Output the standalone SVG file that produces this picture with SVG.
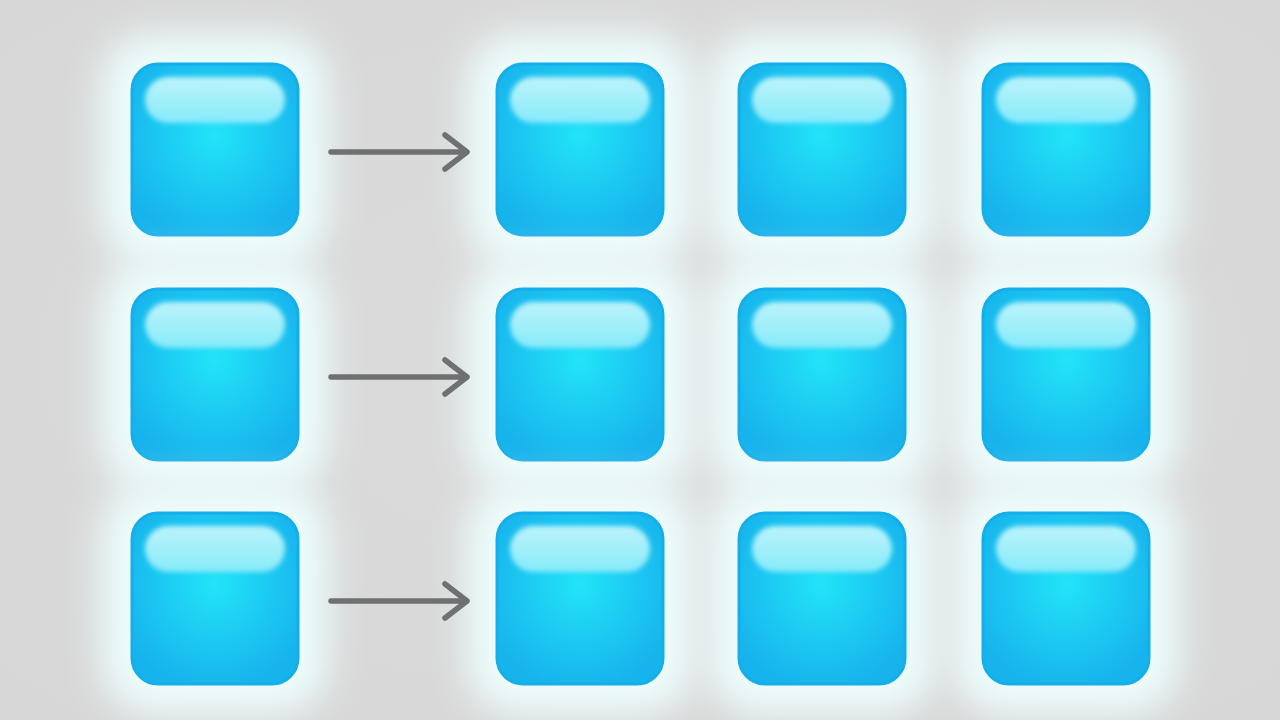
<svg xmlns="http://www.w3.org/2000/svg" width="1280" height="720" viewBox="0 0 1280 720">
<defs>
<style>
.glow{fill:#eefdfd;filter:url(#blur)}
.box{fill:url(#bodyGrad);stroke:#16aee9;stroke-width:3}
.shine{fill:url(#shineGrad);filter:url(#soft)}
.conn{stroke:#6e7071;stroke-width:5.5;fill:none;stroke-linecap:round;stroke-linejoin:round}
</style>
<radialGradient id="bg" cx="0.5" cy="0.5" r="0.75">
<stop offset="0" stop-color="#dbdbdb"/>
<stop offset="1" stop-color="#d7d7d7"/>
</radialGradient>
<radialGradient id="bodyGrad" cx="0.5" cy="0.42" r="0.62">
<stop offset="0" stop-color="#22e4f8"/>
<stop offset="0.55" stop-color="#1cc8f2"/>
<stop offset="1" stop-color="#17b3ec"/>
</radialGradient>
<linearGradient id="shineGrad" x1="0" y1="0" x2="0" y2="1">
<stop offset="0" stop-color="#bdf4fb"/>
<stop offset="1" stop-color="#86eaf9"/>
</linearGradient>
<filter id="blur" x="-50%" y="-50%" width="200%" height="200%"><feGaussianBlur stdDeviation="18"/></filter>
<filter id="soft" x="-20%" y="-20%" width="140%" height="140%"><feGaussianBlur stdDeviation="2.5"/></filter>
<g id="cell">
<rect class="glow" x="-30" y="-30" width="226" height="231" rx="50"/>
<rect class="box" x="0" y="0" width="166" height="171" rx="26"/>
<rect class="shine" x="13" y="13" width="140" height="46" rx="23"/>
</g>
</defs>
<rect width="1280" height="720" fill="url(#bg)"/>
<g id="node-r1c1"><use href="#cell" x="132" y="64"/></g>
<g id="node-r1c2"><use href="#cell" x="497" y="64"/></g>
<g id="node-r1c3"><use href="#cell" x="739" y="64"/></g>
<g id="node-r1c4"><use href="#cell" x="983" y="64"/></g>
<g id="node-r2c1"><use href="#cell" x="132" y="289"/></g>
<g id="node-r2c2"><use href="#cell" x="497" y="289"/></g>
<g id="node-r2c3"><use href="#cell" x="739" y="289"/></g>
<g id="node-r2c4"><use href="#cell" x="983" y="289"/></g>
<g id="node-r3c1"><use href="#cell" x="132" y="513"/></g>
<g id="node-r3c2"><use href="#cell" x="497" y="513"/></g>
<g id="node-r3c3"><use href="#cell" x="739" y="513"/></g>
<g id="node-r3c4"><use href="#cell" x="983" y="513"/></g>
<g id="connectors">
<path class="conn" d="M331 152 H467 M445 135 L467 152 L445 169"/>
<path class="conn" d="M331 377 H467 M445 360 L467 377 L445 394"/>
<path class="conn" d="M331 601 H467 M445 584 L467 601 L445 618"/>
</g>
</svg>
